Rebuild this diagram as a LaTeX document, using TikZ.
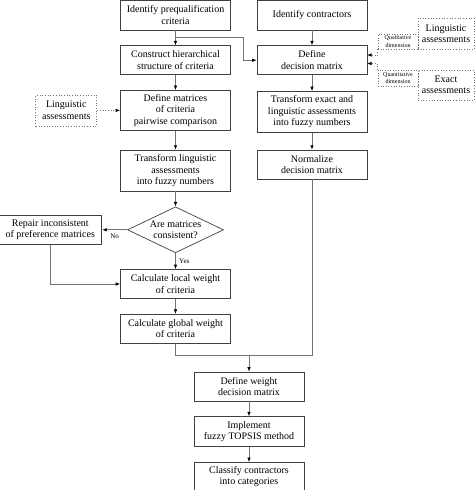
\documentclass[tikz,border=0pt]{standalone}
\usepackage{fontspec}
\setmainfont{Liberation Serif}
\usetikzlibrary{positioning}
\usetikzlibrary{arrows.meta}
\usetikzlibrary{shapes.geometric}

\begin{document}
\begin{tikzpicture}[x=1pt, y=-1pt, node distance=15pt,
    font=\fontsize{10}{11.5}\selectfont,
    stepBox/.style={draw=black!75, line width=0.7pt, align=center, minimum width=110pt, minimum height=29pt, inner sep=2pt},
    decisionBox/.style={draw=black!75, line width=0.7pt, shape=diamond, shape aspect=2.1, align=center, inner sep=0pt, minimum width=96pt, minimum height=46pt},
    inputBox/.style={draw=black!55, dotted, line width=0.7pt, align=center, inner sep=2pt},
    dimLabel/.style={draw=black!55, dotted, line width=0.6pt, align=center, inner sep=0pt, font=\fontsize{6}{7.5}\selectfont},
    flow/.style={draw=black!55, line width=0.7pt},
    flowArrow/.style={flow, -{Latex[length=4.5pt, width=3.5pt, color=black]}},
    inputArrow/.style={draw=black!55, dotted, line width=0.7pt, -{Latex[length=4.5pt, width=3.5pt, color=black]}},
    answer/.style={font=\fontsize{7}{8}\selectfont},
  ]
    \useasboundingbox (0,0) rectangle (474,490);

    % prequalification criteria branch
    \node[stepBox, minimum height=30pt] (crit_0) at (175.5,15) {Identify prequalification\\criteria};
    \node[stepBox, below=of crit_0] (crit_1) {Construct hierarchical\\structure of criteria};
    \node[stepBox, below=of crit_1, minimum height=40pt] (crit_2) {Define matrices\\of criteria\\pairwise comparison};
    \node[stepBox, below=19pt of crit_2, minimum height=41pt] (crit_3) {Transform linguistic\\assessments\\into fuzzy numbers};
    \node[decisionBox, below=of crit_3] (check) {Are matrices\\consistent?};
    \node[stepBox, below=16pt of check] (crit_4) {Calculate local weight\\of criteria};
    \node[stepBox, below=of crit_4] (crit_5) {Calculate global weight\\of criteria};
    \node[stepBox, left=25pt of check, minimum width=103pt] (repair) {Repair inconsistent\\of preference matrices};

    % contractor branch
    \node[stepBox, minimum height=30pt] (contr_0) at (312,15) {Identify contractors};
    \node[stepBox, below=of contr_0] (contr_1) {Define\\decision matrix};
    \node[stepBox, below=16pt of contr_1, minimum height=41pt] (contr_2) {Transform exact and\\linguistic assessments\\into fuzzy numbers};
    \node[stepBox, below=17pt of contr_2] (contr_3) {Normalize\\decision matrix};

    % final ranking
    \node[stepBox] (final_0) at (249,386.5) {Define weight\\decision matrix};
    \node[stepBox, below=of final_0, minimum height=30pt] (final_1) {Implement\\fuzzy TOPSIS method};
    \node[stepBox, below=of final_1, minimum height=28pt] (final_2) {Classify contractors\\into categories};

    % assessment inputs
    \node[inputBox, left=23pt of crit_2, minimum width=61pt, minimum height=31pt] (ling_0) {Linguistic\\assessments};
    \node[inputBox, minimum width=56pt, minimum height=31pt] (ling_1) at (446,33.5) {Linguistic\\assessments};
    \node[inputBox, minimum width=56pt, minimum height=30pt] (exact) at (446,85) {Exact\\assessments};
    \node[dimLabel, minimum width=40pt, minimum height=15pt] (qual) at (398,41.5) {Qualitative\\dimension};
    \node[dimLabel, minimum width=40pt, minimum height=16pt] (quant) at (398,78) {Quantitative\\dimension};

    \coordinate (split) at (175.5,37.5);
    \coordinate (bend) at (243,37.5);
    \coordinate (qualIn) at (367,55);
    \coordinate (quantIn) at (367,63.5);
    \coordinate (merge) at (249,355);

    \path[flowArrow] (crit_0) edge (crit_1);
    \path[flowArrow] (crit_1) edge (crit_2);
    \path[flowArrow] (crit_2) edge (crit_3);
    \path[flowArrow] (crit_3) edge (check);
    \path[flowArrow] (check) edge node[answer, below] {No} (repair);
    \path[flowArrow] (check) edge node[answer, right] {Yes} (crit_4);
    \path[flowArrow] (crit_4) edge (crit_5);
    \draw[flowArrow] (repair.south) |- (crit_4.west);
    \draw[flowArrow] (split) -- (bend) |- (contr_1.west);

    \path[flowArrow] (contr_0) edge (contr_1);
    \path[flowArrow] (contr_1) edge (contr_2);
    \path[flowArrow] (contr_2) edge (contr_3);

    \path[inputArrow] (ling_0) edge (crit_2);
    \draw[inputArrow] (qual.south west) |- (qualIn);
    \draw[inputArrow] (quant.north west) |- (quantIn);

    \draw[flow] (crit_5.south) |- (merge);
    \draw[flow] (contr_3.south) |- (merge);
    \draw[flowArrow] (merge) -- (final_0);
    \path[flowArrow] (final_0) edge (final_1);
    \path[flowArrow] (final_1) edge (final_2);
  \end{tikzpicture}
\end{document}
